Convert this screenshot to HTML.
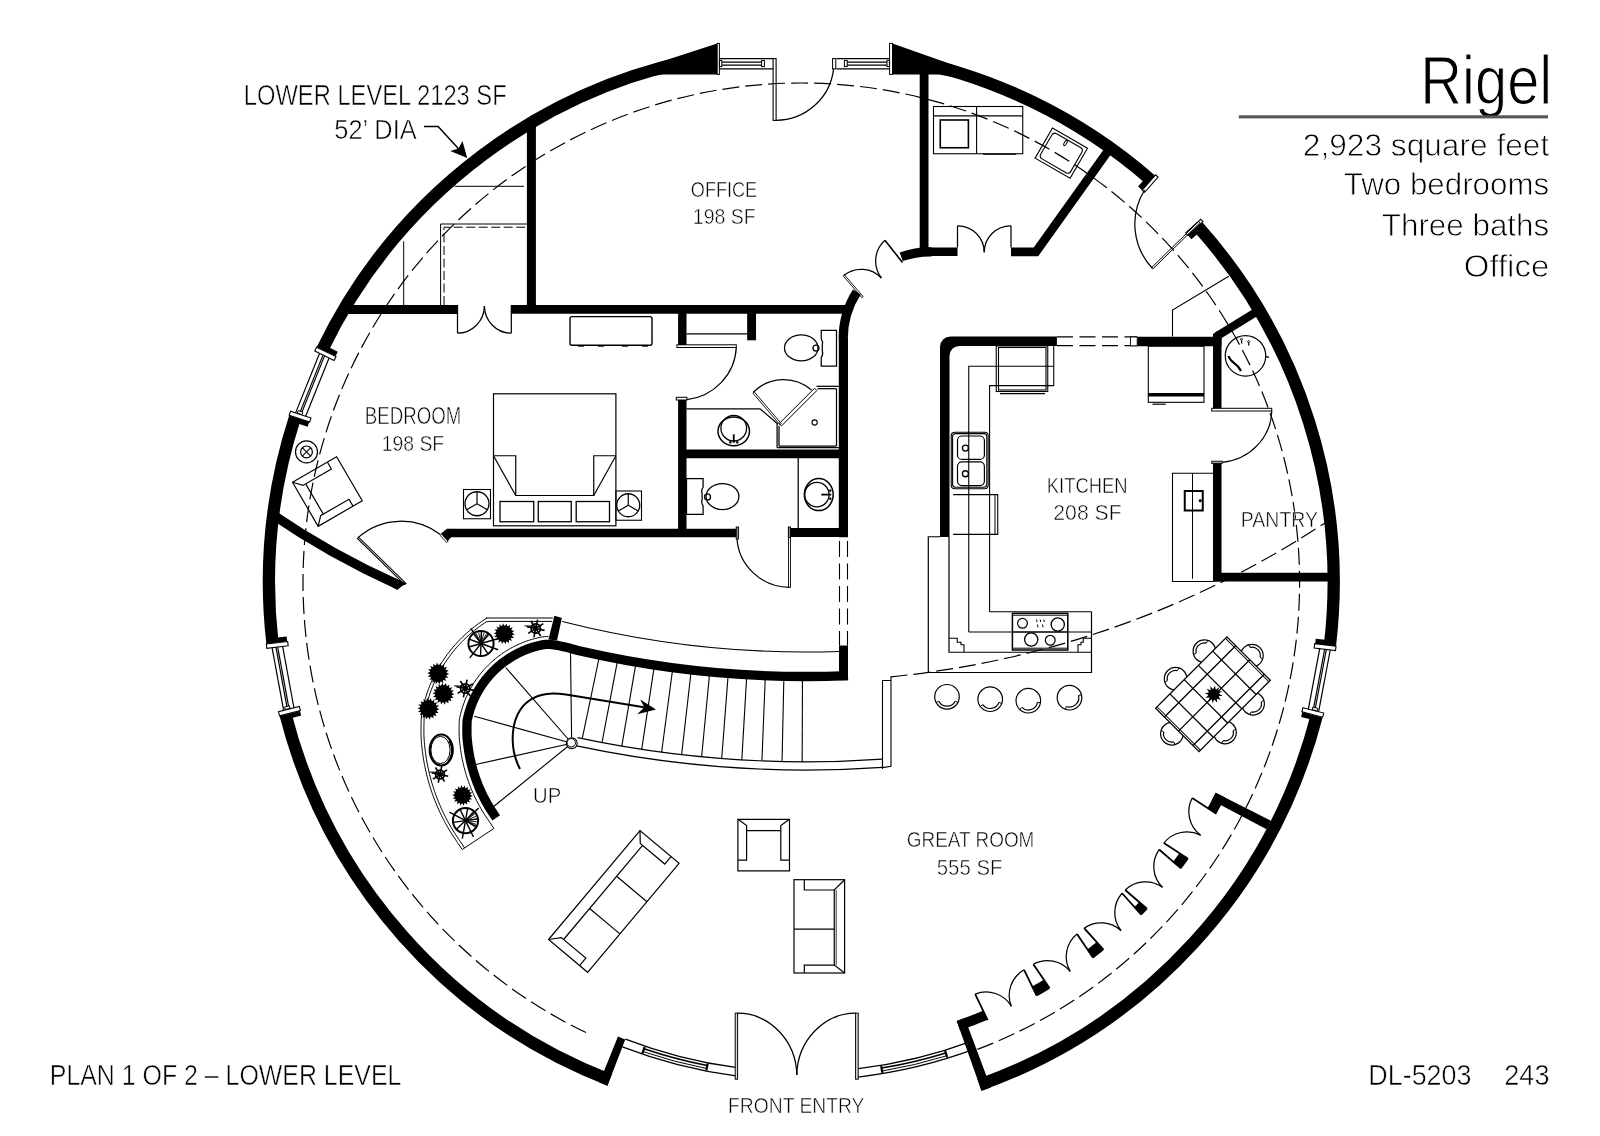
<!DOCTYPE html>
<html><head><meta charset="utf-8"><title>Rigel</title>
<style>
html,body{margin:0;padding:0;background:#fff;}
svg{display:block;filter:grayscale(1);}
text{font-family:"Liberation Sans",sans-serif;fill:#000;}
</style></head>
<body>
<svg width="1600" height="1136" viewBox="0 0 1600 1136">
<rect x="0" y="0" width="1600" height="1136" fill="#fff"/>
<g fill="none" stroke="#000" stroke-width="1.2" stroke-dasharray="17 6">
<path d="M585.99,1032.58 A498.3,499.3 0 1 1 976.62,1049.67"/>
<path d="M890.6,676.83 A961.9,961.9 0 0 0 1326.81,521.71"/>
</g>
<path d="M1316.69,715.86 A532.35,533.41 0 0 1 979.44,1084.96" fill="none" stroke="#000" stroke-width="12.3" />
<path d="M609.66,1079.95 A532.35,533.41 0 0 1 285.54,714.41" fill="none" stroke="#000" stroke-width="12.3" />
<path d="M272.44,643.24 A532.35,533.41 0 0 1 295.01,417.47" fill="none" stroke="#000" stroke-width="12.3" />
<path d="M322.22,349.72 A532.35,533.41 0 0 1 713.44,56.2" fill="none" stroke="#000" stroke-width="12.3" />
<path d="M896.49,57.48 A532.35,533.41 0 0 1 1150.97,180.09" fill="none" stroke="#000" stroke-width="12.3" />
<path d="M1197.78,226.35 A532.35,533.41 0 0 1 1329.91,645.46" fill="none" stroke="#000" stroke-width="12.3" />
<polygon points="717.2,43.4 717.2,74.4 663,74.4 637.5,78.2 634.9,70.2" fill="#000" stroke="none" stroke-width="0"/>
<polygon points="892.5,43.4 892.5,74.4 939,74.4 968,80 981,74.7" fill="#000" stroke="none" stroke-width="0"/>
<rect x="717.2" y="43.4" width="2.2" height="31" rx="0" fill="#fff" stroke="#000" stroke-width="1" />
<rect x="889.6" y="43.4" width="2.9" height="31" rx="0" fill="#fff" stroke="#000" stroke-width="1" />
<polygon points="1315.74,638.7 1325.18,639.78 1324.61,644.74 1315.17,643.66" fill="#000" stroke="none" stroke-width="0"/>
<polygon points="1314.67,643.66 1336,646.3 1335.48,650.57 1314.14,647.93" fill="#fff" stroke="#000" stroke-width="1.1"/>
<polygon points="1302.34,712.08 1311.52,714.5 1310.25,719.34 1301.06,716.91" fill="#000" stroke="none" stroke-width="0"/>
<polygon points="1302.92,707.73 1323.76,713.03 1322.7,717.2 1301.86,711.9" fill="#fff" stroke="#000" stroke-width="1.1"/>
<line x1="1319.69" y1="648.66" x2="1308.35" y2="709.07" stroke="#000" stroke-width="1.2" />
<line x1="1324.65" y1="649.29" x2="1313.21" y2="710.28" stroke="#000" stroke-width="1.2" />
<line x1="1326.33" y1="649.51" x2="1314.86" y2="710.7" stroke="#000" stroke-width="1.2" />
<line x1="1330.2" y1="650" x2="1318.64" y2="711.64" stroke="#000" stroke-width="1.2" />
<polygon points="1312.85,707.14 1317.7,708.34 1317.08,710.87 1312.23,709.67" fill="#fff" stroke="#000" stroke-width="1"/>
<polygon points="301.19,715.6 291.99,718 290.73,713.17 299.93,710.76" fill="#000" stroke="none" stroke-width="0"/>
<polygon points="300.4,710.59 279.55,715.83 278.5,711.66 299.35,706.42" fill="#fff" stroke="#000" stroke-width="1.1"/>
<polygon points="287.18,641.51 277.74,642.55 277.19,637.58 286.63,636.54" fill="#000" stroke="none" stroke-width="0"/>
<polygon points="288.19,645.77 266.84,648.32 266.33,644.05 287.68,641.5" fill="#fff" stroke="#000" stroke-width="1.1"/>
<line x1="293.92" y1="707.74" x2="282.64" y2="646.48" stroke="#000" stroke-width="1.2" />
<line x1="289.06" y1="708.94" x2="277.68" y2="647.09" stroke="#000" stroke-width="1.2" />
<line x1="287.41" y1="709.35" x2="275.99" y2="647.3" stroke="#000" stroke-width="1.2" />
<line x1="283.62" y1="710.28" x2="272.12" y2="647.78" stroke="#000" stroke-width="1.2" />
<polygon points="290.04,708.33 285.19,709.51 284.57,706.99 289.43,705.8" fill="#fff" stroke="#000" stroke-width="1"/>
<polygon points="307.62,426.77 298.57,423.87 300.09,419.11 309.14,422.01" fill="#000" stroke="none" stroke-width="0"/>
<polygon points="309.63,422.11 289.21,415.37 290.56,411.28 310.98,418.03" fill="#fff" stroke="#000" stroke-width="1.1"/>
<polygon points="335.55,356.26 327.02,352.07 329.22,347.58 337.75,351.77" fill="#000" stroke="none" stroke-width="0"/>
<polygon points="334.12,360.4 314.73,351.1 316.59,347.22 335.98,356.53" fill="#fff" stroke="#000" stroke-width="1.1"/>
<line x1="305.68" y1="416.23" x2="329.06" y2="358.02" stroke="#000" stroke-width="1.2" />
<line x1="300.94" y1="414.64" x2="324.54" y2="355.87" stroke="#000" stroke-width="1.2" />
<line x1="299.32" y1="414.1" x2="323.01" y2="355.15" stroke="#000" stroke-width="1.2" />
<line x1="295.62" y1="412.86" x2="319.48" y2="353.47" stroke="#000" stroke-width="1.2" />
<polygon points="302.09,414.65 297.35,413.05 298.18,410.59 302.92,412.19" fill="#fff" stroke="#000" stroke-width="1"/>
<line x1="719.4" y1="58.6" x2="773.1" y2="58.6" stroke="#000" stroke-width="1.25" />
<line x1="719.4" y1="68.9" x2="773.1" y2="68.9" stroke="#000" stroke-width="1.25" />
<line x1="836.5" y1="58.6" x2="889.6" y2="58.6" stroke="#000" stroke-width="1.25" />
<line x1="836.5" y1="68.9" x2="889.6" y2="68.9" stroke="#000" stroke-width="1.25" />
<line x1="722" y1="62.2" x2="762" y2="62.2" stroke="#000" stroke-width="1.25" />
<line x1="722" y1="65" x2="762" y2="65" stroke="#000" stroke-width="1.25" />
<rect x="719.4" y="60.4" width="2.4" height="6.2" rx="0" fill="none" stroke="#000" stroke-width="1" />
<rect x="761.6" y="60.4" width="2.8" height="6.2" rx="0" fill="none" stroke="#000" stroke-width="1" />
<line x1="847" y1="62.2" x2="887" y2="62.2" stroke="#000" stroke-width="1.25" />
<line x1="847" y1="65" x2="887" y2="65" stroke="#000" stroke-width="1.25" />
<rect x="844.4" y="60.4" width="2.8" height="6.2" rx="0" fill="none" stroke="#000" stroke-width="1" />
<rect x="887" y="60.4" width="2.4" height="6.2" rx="0" fill="none" stroke="#000" stroke-width="1" />
<rect x="832.6" y="58.6" width="3.2" height="10.3" rx="0" fill="none" stroke="#000" stroke-width="1" />
<rect x="773.1" y="58.6" width="3" height="61.8" rx="0" fill="none" stroke="#000" stroke-width="1.1" />
<path d="M776,120.3 A58,58 0 0 0 833.6,68.9" fill="none" stroke="#000" stroke-width="1.25" />
<polygon points="1138.07,186.6 1143.29,180.53 1147.46,184.12 1142.23,190.19" fill="#000" stroke="none" stroke-width="0"/>
<polygon points="1142.23,190.2 1155.61,174.9 1158.02,177.01 1144.64,192.31" fill="#fff" stroke="#000" stroke-width="1.1"/>
<polygon points="1187.82,235.25 1193.81,229.93 1197.46,234.04 1191.47,239.36" fill="#000" stroke="none" stroke-width="0"/>
<polygon points="1185.68,232.87 1200.75,219.25 1202.9,221.62 1187.82,235.25" fill="#fff" stroke="#000" stroke-width="1.1"/>
<path d="M1198.57,221.56 L1151.67,267.56 L1152.93,268.84 L1199.83,222.84 Z" fill="none" stroke="#000" stroke-width="1" />
<path d="M1152.3,268.2 A64.5,64.5 0 0 1 1144.6,190.0" fill="none" stroke="#000" stroke-width="1.25" />
<path d="M625.26,1039.43 L607.44,1085.7 A538.5,539.58 0 0 1 599.4,1082.52 L617.96,1036.54 A489,489.98 0 0 0 625.26,1039.43 Z" fill="#000"/>
<path d="M964.73,1017.97 L990.77,1087.38 A538.5,539.58 0 0 1 981.5,1090.77 L956.74,1020.9 A464.5,465.43 0 0 0 964.73,1017.97 Z" fill="#000"/>
<path d="M983.54,1010.41 L987.46,1019.63 A474.5,475.45 0 0 1 960.08,1030.34 L956.74,1020.9 A464.5,465.43 0 0 0 983.54,1010.41 Z" fill="#000"/>
<path d="M735.67,1067.44 A488.6,489.58 0 0 1 625.41,1039.05" fill="none" stroke="#000" stroke-width="1.25" />
<path d="M736,1075.98 A497,497.99 0 0 1 622.38,1046.91" fill="none" stroke="#000" stroke-width="1.25" />
<path d="M973.21,1040.57 A488.6,489.58 0 0 1 858.31,1068.53" fill="none" stroke="#000" stroke-width="1.25" />
<path d="M976.17,1048.45 A497,497.99 0 0 1 857.99,1077.04" fill="none" stroke="#000" stroke-width="1.25" />
<path d="M707.28,1065.59 A491.4,492.38 0 0 1 643.99,1048.77" fill="none" stroke="#000" stroke-width="1.5"/>
<path d="M706.71,1068.54 A494.4,495.39 0 0 1 643.03,1051.62" fill="none" stroke="#000" stroke-width="1"/>
<polygon points="708.77,1063.73 707.43,1070.62 705.27,1070.2 706.61,1063.31" fill="#000" stroke="none" stroke-width="0"/>
<polygon points="645.71,1047.13 643.47,1053.78 641.38,1053.07 643.62,1046.43" fill="#000" stroke="none" stroke-width="0"/>
<path d="M945.79,1052.92 A491.4,492.38 0 0 1 881.56,1068.07" fill="none" stroke="#000" stroke-width="1.5"/>
<path d="M946.67,1055.79 A494.4,495.39 0 0 1 882.05,1071.04" fill="none" stroke="#000" stroke-width="1"/>
<polygon points="946.23,1050.58 948.28,1057.29 946.18,1057.93 944.12,1051.23" fill="#000" stroke="none" stroke-width="0"/>
<polygon points="882.3,1065.82 883.44,1072.74 881.27,1073.09 880.13,1066.17" fill="#000" stroke="none" stroke-width="0"/>
<rect x="735.2" y="1013.2" width="2.4" height="66" rx="0" fill="#ddd" stroke="#000" stroke-width="1" />
<rect x="855.6" y="1013.2" width="2.6" height="66" rx="0" fill="#ddd" stroke="#000" stroke-width="1" />
<path d="M737.4,1013.2 A59.5,63 0 0 1 796.8,1075" fill="none" stroke="#000" stroke-width="1.25" />
<path d="M855.8,1013.2 A59.2,63 0 0 0 796.8,1075" fill="none" stroke="#000" stroke-width="1.25" />
<path d="M1215.65,792.66 L1270.96,820.74 A526.5,527.55 0 0 1 1266.52,829.32 L1211.73,800.23 A464.5,465.43 0 0 0 1215.65,792.66 Z" fill="#000"/>
<path d="M1215.65,792.66 L1225.02,797.41 A475,475.95 0 0 1 1216.54,813.41 L1207.36,808.3 A464.5,465.43 0 0 0 1215.65,792.66 Z" fill="#000"/>
<line x1="1216.34" y1="813.77" x2="1192.21" y2="798.08" stroke="#000" stroke-width="1.8" />
<line x1="1188" y1="858.69" x2="1163.87" y2="843.07" stroke="#000" stroke-width="1.8" />
<path d="M1192.21,798.08 A29.3,29.3 0 0 0 1200.6,835.23" fill="none" stroke="#000" stroke-width="1.25" />
<path d="M1163.87,843.07 A29.3,29.3 0 0 1 1200.6,835.23" fill="none" stroke="#000" stroke-width="1.25" />
<path d="M1179.7,852.75 L1188.49,859.03 A475.6,476.55 0 0 1 1181.38,868.76 L1172.75,862.26 A464.8,465.73 0 0 0 1179.7,852.75 Z" fill="#000"/>
<line x1="1180.9" y1="868.4" x2="1159.13" y2="849.55" stroke="#000" stroke-width="1.8" />
<line x1="1146.99" y1="908.72" x2="1125.2" y2="889.96" stroke="#000" stroke-width="1.8" />
<path d="M1159.13,849.55 A29.3,29.3 0 0 0 1162.52,887.35" fill="none" stroke="#000" stroke-width="1.25" />
<path d="M1125.2,889.96 A29.3,29.3 0 0 1 1162.52,887.35" fill="none" stroke="#000" stroke-width="1.25" />
<path d="M1139.57,901.71 L1147.43,909.13 A475.6,476.55 0 0 1 1141.68,915.13 L1133.95,907.57 A464.8,465.73 0 0 0 1139.57,901.71 Z" fill="#000"/>
<line x1="1141.25" y1="914.71" x2="1122.07" y2="893.23" stroke="#000" stroke-width="1.8" />
<line x1="1103.44" y1="949.55" x2="1084.16" y2="928.21" stroke="#000" stroke-width="1.8" />
<path d="M1122.07,893.23 A29.3,29.3 0 0 0 1121.06,930.73" fill="none" stroke="#000" stroke-width="1.25" />
<path d="M1084.16,928.21 A29.3,29.3 0 0 1 1121.06,930.73" fill="none" stroke="#000" stroke-width="1.25" />
<path d="M1096.95,941.67 L1103.82,950.02 A475.6,476.55 0 0 1 1093.45,958.34 L1086.82,949.8 A464.8,465.73 0 0 0 1096.95,941.67 Z" fill="#000"/>
<line x1="1093.09" y1="957.86" x2="1076.99" y2="933.97" stroke="#000" stroke-width="1.8" />
<line x1="1049.49" y1="988.11" x2="1033.36" y2="964.29" stroke="#000" stroke-width="1.8" />
<path d="M1076.99,933.97 A29.3,29.3 0 0 0 1070.23,971.46" fill="none" stroke="#000" stroke-width="1.25" />
<path d="M1033.36,964.29 A29.3,29.3 0 0 1 1070.23,971.46" fill="none" stroke="#000" stroke-width="1.25" />
<path d="M1044.16,979.4 L1049.8,988.63 A475.6,476.55 0 0 1 1036.94,996.25 L1031.59,986.85 A464.8,465.73 0 0 0 1044.16,979.4 Z" fill="#000"/>
<line x1="1036.64" y1="995.73" x2="1024.11" y2="969.78" stroke="#000" stroke-width="1.8" />
<line x1="987.66" y1="1020.09" x2="975.18" y2="994.16" stroke="#000" stroke-width="1.8" />
<path d="M1024.11,969.78 A29.3,29.3 0 0 0 1011.35,1006.28" fill="none" stroke="#000" stroke-width="1.25" />
<path d="M975.18,994.16 A29.3,29.3 0 0 1 1011.35,1006.28" fill="none" stroke="#000" stroke-width="1.25" />
<line x1="531.4" y1="126" x2="531.4" y2="309.5" stroke="#000" stroke-width="9" />
<line x1="346" y1="309.5" x2="457.5" y2="309.5" stroke="#000" stroke-width="9" />
<line x1="511" y1="309.4" x2="848" y2="309.4" stroke="#000" stroke-width="8.8" />
<line x1="924.1" y1="70" x2="924.1" y2="256.1" stroke="#000" stroke-width="8.8" />
<line x1="919.7" y1="251.8" x2="957.5" y2="251.8" stroke="#000" stroke-width="8.6" />
<path d="M1011,251.8 L1036,251.8 L1110.5,147.5" fill="none" stroke="#000" stroke-width="8.8" stroke-linejoin="miter" stroke-miterlimit="6"/>
<path d="M843.2,338.6 A86.8,86.8 0 0 1 856.79,291.96" fill="none" stroke="#000" stroke-width="9.2" />
<path d="M901.17,256.73 A86.8,86.8 0 0 1 931.51,251.81" fill="none" stroke="#000" stroke-width="9.2" />
<line x1="843.4" y1="338" x2="843.4" y2="537.2" stroke="#000" stroke-width="9.2" />
<line x1="682.3" y1="305" x2="682.3" y2="345" stroke="#000" stroke-width="8.4" />
<line x1="682.3" y1="399.6" x2="682.3" y2="537" stroke="#000" stroke-width="8.4" />
<line x1="751.6" y1="305" x2="751.6" y2="340.3" stroke="#000" stroke-width="8.9" />
<line x1="682" y1="453.75" x2="843" y2="453.75" stroke="#000" stroke-width="8.75" />
<line x1="450" y1="533" x2="737.6" y2="533" stroke="#000" stroke-width="8.4" />
<polygon points="450.5,528.8 447,528.8 441,533.6 447.5,541.2 451,537.2" fill="#000" stroke="none" stroke-width="0"/>
<line x1="789.4" y1="532.6" x2="848" y2="532.6" stroke="#000" stroke-width="9" />
<path d="M269.64,512.68 A812.6,812.6 0 0 0 399.39,585.35" fill="none" stroke="#000" stroke-width="9.4" />
<polygon points="396.11,578.83 405.9,583.3 397.47,589.64 392.27,587.3" fill="#000" stroke="none" stroke-width="0"/>
<path d="M1056.9,336.5 L950.5,336.5 A10.5,10.5 0 0 0 940,347 L940,536.9 L949.5,536.9 L949.5,356 A10,10 0 0 1 959.5,345.9 L1056.9,345.9 Z" fill="#000"/>
<line x1="1137.2" y1="341.5" x2="1218" y2="341.5" stroke="#000" stroke-width="9.4" />
<line x1="1217.25" y1="334" x2="1217.25" y2="408.3" stroke="#000" stroke-width="8.5" />
<line x1="1217.25" y1="462.75" x2="1217.25" y2="581.5" stroke="#000" stroke-width="8.5" />
<path d="M1217.2,336 L1261,309" fill="none" stroke="#000" stroke-width="8.2" />
<polygon points="1213,334 1213,346 1221.5,346 1221.5,336.6 1217,331" fill="#000" stroke="none" stroke-width="0"/>
<line x1="1213" y1="577.1" x2="1330" y2="577.1" stroke="#000" stroke-width="8.75" />
<line x1="843.5" y1="645.5" x2="843.5" y2="680.2" stroke="#000" stroke-width="9" />
<path d="M496.23,817.9 L495.62,816.98 L494.8,815.76 L493.82,814.31 L492.74,812.7 L491.61,810.99 L490.48,809.26 L489.41,807.57 L488.45,806 L487.57,804.5 L486.72,803.01 L485.89,801.51 L485.08,800.01 L484.29,798.5 L483.53,797 L482.78,795.5 L482.05,794 L481.34,792.5 L480.65,791 L479.98,789.5 L479.33,788 L478.7,786.5 L478.09,785 L477.49,783.5 L476.91,782 L476.35,780.5 L475.81,779 L475.28,777.5 L474.78,776 L474.29,774.5 L473.81,773 L473.36,771.5 L472.91,770 L472.49,768.49 L472.07,766.98 L471.68,765.46 L471.3,763.94 L470.94,762.43 L470.59,760.93 L470.27,759.45 L469.96,758 L469.67,756.58 L469.4,755.18 L469.15,753.8 L468.92,752.44 L468.7,751.08 L468.5,749.73 L468.3,748.37 L468.12,747 L467.93,745.63 L467.76,744.27 L467.6,742.92 L467.44,741.56 L467.3,740.2 L467.18,738.82 L467.08,737.42 L467,736 L466.94,734.5 L466.91,732.91 L466.9,731.27 L466.9,729.64 L466.91,728.05 L466.94,726.55 L466.97,725.18 L467,724 L467.02,723.07 L467.03,722.36 L467.03,721.82 L467.05,721.36 L467.09,720.9 L467.17,720.37 L467.3,719.7 L467.49,718.8 L467.75,717.68 L468.06,716.4 L468.41,715 L468.8,713.52 L469.23,712 L469.68,710.47 L470.14,708.97 L470.61,707.54 L471.1,706.17 L471.61,704.8 L472.14,703.43 L472.69,702.08 L473.26,700.73 L473.85,699.39 L474.46,698.06 L475.09,696.75 L475.74,695.44 L476.41,694.14 L477.1,692.85 L477.81,691.58 L478.54,690.31 L479.29,689.05 L480.05,687.81 L480.84,686.58 L481.64,685.36 L482.47,684.15 L483.31,682.96 L484.17,681.78 L485.05,680.61 L485.95,679.45 L486.86,678.31 L487.79,677.19 L488.74,676.07 L489.7,674.98 L490.68,673.89 L491.68,672.82 L492.7,671.77 L493.73,670.73 L494.77,669.71 L495.83,668.71 L496.91,667.72 L498,666.75 L499.11,665.8 L500.23,664.86 L501.36,663.93 L502.51,663.03 L503.68,662.14 L504.85,661.28 L506.04,660.43 L507.24,659.6 L508.45,658.78 L509.68,657.99 L510.92,657.21 L512.17,656.45 L513.43,655.72 L514.7,655 L515.99,654.3 L517.28,653.62 L518.58,652.96 L519.9,652.32 L521.23,651.7 L522.56,651.1 L523.9,650.53 L525.25,649.97 L526.6,649.43 L527.96,648.91 L529.32,648.4 L530.69,647.92 L532.07,647.47 L533.47,647.03 L534.89,646.63 L536.33,646.26 L537.78,645.9 L539.24,645.55 L540.71,645.21 L542.2,644.9 L543.72,644.65 L545.27,644.45 L546.86,644.33 L548.5,644.3 L550.2,644.37 L551.95,644.54 L553.74,644.78 L555.57,645.09 L557.42,645.44 L559.29,645.81 L561.15,646.21 L563,646.6 L564.95,647.03 L567.07,647.55 L569.25,648.11 L571.41,648.68 L573.45,649.23 L575.29,649.74 L576.84,650.16 L578,650.47 A1011.5,1011.5 0 0 0 848,675.63" fill="none" stroke="#000" stroke-width="9.3" stroke-linejoin="round"/>
<polygon points="554.4,615.75 561.9,618 557,640.5 548.4,639.4" fill="#000" stroke="none" stroke-width="0"/>
<g stroke="#000" stroke-width="1.1" stroke-dasharray="16 6.5" fill="none">
<path d="M1057,336.9 H1137 M1057,345.6 H1137"/>
<path d="M839.5,541 V645.5 M847.5,541 V645.5"/>
</g>
<rect x="1130.5" y="337" width="6.7" height="8.8" rx="0" fill="#fff" stroke="#000" stroke-width="0.9" />
<line x1="454.7" y1="186.3" x2="524" y2="186.3" stroke="#000" stroke-width="1" stroke="#333"/>
<path d="M440.6,305 L440.6,224 L526.9,224" fill="none" stroke="#000" stroke-width="1" />
<path d="M444,305 L444,227.2 L526.9,227.2" fill="none" stroke="#000" stroke-width="1" stroke-dasharray="9 3.5"/>
<line x1="403.7" y1="241.25" x2="403.7" y2="305" stroke="#000" stroke-width="1" />
<line x1="457.5" y1="305" x2="457.5" y2="333.2" stroke="#000" stroke-width="1.25" />
<line x1="511.3" y1="305" x2="511.3" y2="333.2" stroke="#000" stroke-width="1.25" />
<path d="M457.5,333.2 A27,27.5 0 0 0 484.4,306" fill="none" stroke="#000" stroke-width="1.25" />
<path d="M511.3,333.2 A27,27.5 0 0 1 484.4,306" fill="none" stroke="#000" stroke-width="1.25" />
<line x1="957.5" y1="247.5" x2="957.5" y2="225.8" stroke="#000" stroke-width="1.25" />
<line x1="1011" y1="247.5" x2="1011" y2="225.8" stroke="#000" stroke-width="1.25" />
<path d="M957.5,225.8 A26.5,26.5 0 0 1 984.2,252.3" fill="none" stroke="#000" stroke-width="1.25" />
<path d="M1011,225.8 A26.5,26.5 0 0 0 984.2,252.3" fill="none" stroke="#000" stroke-width="1.25" />
<line x1="902.5" y1="262.5" x2="884.9" y2="240.2" stroke="#000" stroke-width="1.6" />
<path d="M884.9,240.2 A28,28 0 0 0 881.4,278.0" fill="none" stroke="#000" stroke-width="1.25" />
<path d="M863.2,296.6 L844.4,274.8 L843.2,275.9 L861.9,297.7 Z" fill="none" stroke="#000" stroke-width="0.9" />
<path d="M844,275.2 A28,28 0 0 1 881.4,278.0" fill="none" stroke="#000" stroke-width="1.25" />
<rect x="676.9" y="344.8" width="59.4" height="2.7" rx="0" fill="none" stroke="#000" stroke-width="1" />
<path d="M736.3,347.5 A56.5,55 0 0 1 686.9,399.6" fill="none" stroke="#000" stroke-width="1.25" />
<rect x="676.3" y="397.3" width="10.6" height="2.7" rx="0" fill="#fff" stroke="#000" stroke-width="1" />
<line x1="686.5" y1="333.75" x2="747.1" y2="333.75" stroke="#000" stroke-width="1.25" />
<path d="M686.5,408.75 L760,408.75 L778.1,424.2" fill="none" stroke="#000" stroke-width="1.25" />
<line x1="777.1" y1="424" x2="777.1" y2="447.7" stroke="#000" stroke-width="1.25" />
<line x1="779" y1="426" x2="779" y2="446" stroke="#000" stroke-width="1.25" />
<line x1="777.1" y1="447.7" x2="838.8" y2="447.7" stroke="#000" stroke-width="1.25" />
<line x1="779" y1="446" x2="836.5" y2="446" stroke="#000" stroke-width="1.25" />
<line x1="836.5" y1="388.7" x2="836.5" y2="446" stroke="#000" stroke-width="1.25" />
<line x1="816.5" y1="386.3" x2="838.8" y2="386.3" stroke="#000" stroke-width="1.25" />
<line x1="817.5" y1="388.7" x2="836.5" y2="388.7" stroke="#000" stroke-width="1.25" />
<path d="M779.2,423.6 L814.6,388.2 L816.9,390.5 L781.5,425.9 Z" fill="none" stroke="#000" stroke-width="1" />
<path d="M779.9,424.8 L752.8,393 L754.2,391.8 L781.3,423.6 Z" fill="none" stroke="#000" stroke-width="0.9" />
<path d="M753.3,392.3 A42.5,42.5 0 0 1 811.5,390.0" fill="none" stroke="#000" stroke-width="1.25" />
<circle cx="814.6" cy="422.5" r="2.6" fill="none" stroke="#000" stroke-width="1.1"/>
<ellipse cx="733.75" cy="431.3" rx="15.75" ry="14.4" fill="none" stroke="#000" stroke-width="1.5" />
<circle cx="733.75" cy="428.2" r="12.8" fill="none" stroke="#000" stroke-width="1.3"/>
<line x1="733.75" y1="434.3" x2="733.75" y2="442.8" stroke="#000" stroke-width="1.8" />
<circle cx="730.3" cy="442.3" r="0.9" fill="#000" stroke="#000" stroke-width="0.9"/>
<circle cx="737.3" cy="442.3" r="0.9" fill="#000" stroke="#000" stroke-width="0.9"/>
<path d="M821.25,330.25 H836.5 V366 H821.25 V357.5 Q823.4,354.5 822.3,351 V345.2 Q823.4,341.8 821.25,338.8 Z" fill="none" stroke="#000" stroke-width="1.25" />
<ellipse cx="801.25" cy="347.9" rx="16.75" ry="13" fill="none" stroke="#000" stroke-width="1.25" />
<circle cx="816" cy="348.1" r="3" fill="none" stroke="#000" stroke-width="1.3"/>
<path d="M703.1,478.5 H686.5 V514.4 H703.1 V505.9 Q701,502.9 702.1,499.4 V493.6 Q701,490.2 703.1,487.2 Z" fill="none" stroke="#000" stroke-width="1.25" />
<ellipse cx="722.5" cy="496.6" rx="16.4" ry="13.1" fill="none" stroke="#000" stroke-width="1.25" />
<circle cx="707.5" cy="496.9" r="3" fill="none" stroke="#000" stroke-width="1.3"/>
<line x1="798.2" y1="458" x2="798.2" y2="528.5" stroke="#000" stroke-width="1.25" />
<ellipse cx="818.75" cy="494.6" rx="14.4" ry="16" fill="none" stroke="#000" stroke-width="1.5" />
<circle cx="816.9" cy="494.6" r="12.2" fill="none" stroke="#000" stroke-width="1.3"/>
<line x1="821.3" y1="494.6" x2="831.3" y2="494.6" stroke="#000" stroke-width="1.8" />
<circle cx="830.3" cy="490.6" r="0.9" fill="#000" stroke="#000" stroke-width="0.9"/>
<circle cx="830.3" cy="498.7" r="0.9" fill="#000" stroke="#000" stroke-width="0.9"/>
<rect x="788.5" y="528" width="2" height="59.3" rx="0" fill="none" stroke="#000" stroke-width="0.9" />
<path d="M789.5,587.3 A53,52 0 0 1 737,538.8" fill="none" stroke="#000" stroke-width="1.25" />
<rect x="736.2" y="527" width="2.4" height="12" rx="0" fill="#888" stroke="#000" stroke-width="0.9" />
<rect x="788.3" y="527" width="2.2" height="10.4" rx="0" fill="#888" stroke="#000" stroke-width="0.9" />
<path d="M405.9,583.4 L358.6,537.2 L357.4,538.4 L404.7,584.6 Z" fill="none" stroke="#000" stroke-width="1.1" />
<path d="M358.1,537.6 A64.5,64.5 0 0 1 440.3,534.6" fill="none" stroke="#000" stroke-width="1.25" />
<path d="M440.2,535.4 L441.6,534.2 L448.2,541.2 L446.6,542.4 Z" fill="#fff" stroke="#000" stroke-width="0.9" />
<rect x="1211.75" y="408.3" width="60" height="2.7" rx="0" fill="none" stroke="#000" stroke-width="1" />
<path d="M1271.75,411 A55,53 0 0 1 1222.3,462.3" fill="none" stroke="#000" stroke-width="1.25" />
<rect x="1211.75" y="461.2" width="10.5" height="2.2" rx="0" fill="#aaa" stroke="#000" stroke-width="0.9" />
<path d="M1228.75,276.25 L1172.5,310 L1172.5,336.5" fill="none" stroke="#000" stroke-width="1.1" />
<rect x="933.5" y="106.5" width="89.25" height="47.25" rx="0" fill="none" stroke="#000" stroke-width="1.1" />
<line x1="976.6" y1="106.5" x2="976.6" y2="153.75" stroke="#000" stroke-width="1.1" />
<line x1="933.5" y1="115.9" x2="1022.75" y2="115.9" stroke="#000" stroke-width="1.1" />
<rect x="940.25" y="120" width="28.15" height="27.75" rx="0" fill="none" stroke="#000" stroke-width="1.6" />
<line x1="983" y1="154.3" x2="1016" y2="154.3" stroke="#000" stroke-width="1" />
<g transform="translate(1061.3,153.2) rotate(30)">
<rect x="-20.2" y="-17.4" width="40.4" height="34.8" rx="0" fill="none" stroke="#000" stroke-width="1.1" />
<rect x="-17.3" y="-14.5" width="34.6" height="29" rx="3.5" fill="none" stroke="#000" stroke-width="1.1" />
<ellipse cx="-1.5" cy="-11" rx="1.2" ry="3" fill="none" stroke="#000" stroke-width="1" />
</g>
<rect x="570" y="316.6" width="82" height="28.6" rx="2" fill="none" stroke="#000" stroke-width="1.4" />
<line x1="578" y1="346.2" x2="584" y2="346.2" stroke="#000" stroke-width="1" />
<line x1="598" y1="346.2" x2="604" y2="346.2" stroke="#000" stroke-width="1" />
<line x1="622" y1="346.2" x2="628" y2="346.2" stroke="#000" stroke-width="1" />
<line x1="642" y1="346.2" x2="648" y2="346.2" stroke="#000" stroke-width="1" />
<rect x="493.5" y="393.8" width="122.4" height="132" rx="0" fill="none" stroke="#000" stroke-width="1.2" />
<path d="M493.5,455.75 L515.75,455.75 L515.75,495.5 L593.75,495.5 L593.75,455.75 L615.9,455.75" fill="none" stroke="#000" stroke-width="1.2" />
<line x1="493.5" y1="455.75" x2="515.75" y2="495.5" stroke="#000" stroke-width="1.2" />
<line x1="615.9" y1="455.75" x2="593.75" y2="495.5" stroke="#000" stroke-width="1.2" />
<rect x="500" y="501.5" width="33.75" height="20.25" rx="0" fill="none" stroke="#000" stroke-width="1.3" />
<rect x="538.25" y="501.5" width="33" height="20.25" rx="0" fill="none" stroke="#000" stroke-width="1.3" />
<rect x="576.2" y="501.5" width="33.3" height="20.25" rx="0" fill="none" stroke="#000" stroke-width="1.3" />
<rect x="463.5" y="489.5" width="27" height="29.25" rx="0" fill="none" stroke="#000" stroke-width="1.1" />
<circle cx="477" cy="503.75" r="12" fill="none" stroke="#000" stroke-width="1.3"/>
<line x1="477" y1="503.75" x2="477" y2="491.75" stroke="#000" stroke-width="1.2" />
<line x1="477" y1="503.75" x2="487.39" y2="509.75" stroke="#000" stroke-width="1.2" />
<line x1="477" y1="503.75" x2="466.61" y2="509.75" stroke="#000" stroke-width="1.2" />
<rect x="615.9" y="491" width="25.6" height="29.25" rx="0" fill="none" stroke="#000" stroke-width="1.1" />
<circle cx="628.25" cy="505.25" r="11.5" fill="none" stroke="#000" stroke-width="1.3"/>
<line x1="628.25" y1="505.25" x2="628.25" y2="493.75" stroke="#000" stroke-width="1.2" />
<line x1="628.25" y1="505.25" x2="638.21" y2="511" stroke="#000" stroke-width="1.2" />
<line x1="628.25" y1="505.25" x2="618.29" y2="511" stroke="#000" stroke-width="1.2" />
<circle cx="306.5" cy="451.9" r="11" fill="none" stroke="#000" stroke-width="1.2"/>
<circle cx="306.5" cy="451.9" r="5.9" fill="none" stroke="#000" stroke-width="1.2"/>
<line x1="302.3" y1="447.7" x2="310.7" y2="456.1" stroke="#000" stroke-width="1.1" />
<line x1="302.3" y1="456.1" x2="310.7" y2="447.7" stroke="#000" stroke-width="1.1" />
<path d="M292.5,482.25 L336.62,456.7 L362.27,500.76 L318.15,526.31 Z" fill="none" stroke="#000" stroke-width="1.2" />
<path d="M292.5,482.25 L303.01,485.4 L331.38,468.97 L327.36,462.06" fill="none" stroke="#000" stroke-width="1.2" />
<path d="M318.15,526.31 L320.62,515.64 L348.99,499.21 L353.01,506.12" fill="none" stroke="#000" stroke-width="1.2" />
<line x1="305.69" y1="483.85" x2="323.3" y2="514.09" stroke="#000" stroke-width="1.2" />
<path d="M737.9,819.3 L737.9,870.9 L789.5,870.9 L789.5,819.3 Z" fill="none" stroke="#000" stroke-width="1.2" />
<path d="M737.9,819.3 L746.6,825.5 L746.6,860.1 L737.9,860.1" fill="none" stroke="#000" stroke-width="1.2" />
<path d="M789.5,819.3 L780.8,825.5 L780.8,860.1 L789.5,860.1" fill="none" stroke="#000" stroke-width="1.2" />
<line x1="746.6" y1="830.6" x2="780.8" y2="830.6" stroke="#000" stroke-width="1.2" />
<rect x="794" y="879.7" width="50.6" height="93.3" rx="0" fill="none" stroke="#000" stroke-width="1.2" />
<path d="M844.6,879.7 L834.25,890 L804.3,890 L804.3,879.7" fill="none" stroke="#000" stroke-width="1.2" />
<path d="M844.6,973 L834.25,965.1 L804.3,965.1 L804.3,973" fill="none" stroke="#000" stroke-width="1.2" />
<line x1="834.25" y1="890" x2="834.25" y2="965.1" stroke="#000" stroke-width="1.2" />
<line x1="836.2" y1="890" x2="836.2" y2="965.1" stroke="#000" stroke-width="0.8" />
<line x1="794" y1="929.2" x2="834.25" y2="929.2" stroke="#000" stroke-width="1.2" />
<path d="M640,830.6 L548.57,939.53 L587.63,972.32 L679.07,863.39 Z" fill="none" stroke="#000" stroke-width="1.2" />
<line x1="642.57" y1="845.42" x2="563.61" y2="939.49" stroke="#000" stroke-width="1.2" />
<path d="M640,830.6 L640.27,843.5 L664.79,864.07 L671.02,856.64" fill="none" stroke="#000" stroke-width="1.2" />
<path d="M548.57,939.53 L561.31,937.56 L585.83,958.14 L579.59,965.57" fill="none" stroke="#000" stroke-width="1.2" />
<line x1="616.66" y1="876.29" x2="646.92" y2="901.69" stroke="#000" stroke-width="1.2" />
<line x1="589.65" y1="908.47" x2="619.91" y2="933.87" stroke="#000" stroke-width="1.2" />
<circle cx="1204.4" cy="651.25" r="11.3" fill="#fff" stroke="#000" stroke-width="1.2"/>
<path d="M1196.22,653.14 A8.4,8.4 0 0 1 1206.29,643.07" fill="none" stroke="#000" stroke-width="1.2"/>
<line x1="1196.22" y1="653.14" x2="1193.59" y2="654.55" stroke="#000" stroke-width="1" />
<line x1="1206.29" y1="643.07" x2="1207.7" y2="640.44" stroke="#000" stroke-width="1" />
<circle cx="1175.6" cy="678.75" r="11.3" fill="#fff" stroke="#000" stroke-width="1.2"/>
<path d="M1167.42,680.64 A8.4,8.4 0 0 1 1177.49,670.57" fill="none" stroke="#000" stroke-width="1.2"/>
<line x1="1167.42" y1="680.64" x2="1164.79" y2="682.05" stroke="#000" stroke-width="1" />
<line x1="1177.49" y1="670.57" x2="1178.9" y2="667.94" stroke="#000" stroke-width="1" />
<circle cx="1251.9" cy="655.6" r="11.3" fill="#fff" stroke="#000" stroke-width="1.2"/>
<path d="M1250.01,647.42 A8.4,8.4 0 0 1 1260.08,657.49" fill="none" stroke="#000" stroke-width="1.2"/>
<line x1="1250.01" y1="647.42" x2="1248.6" y2="644.79" stroke="#000" stroke-width="1" />
<line x1="1260.08" y1="657.49" x2="1262.71" y2="658.9" stroke="#000" stroke-width="1" />
<circle cx="1253.1" cy="703.75" r="11.3" fill="#fff" stroke="#000" stroke-width="1.2"/>
<path d="M1261.28,701.86 A8.4,8.4 0 0 1 1251.21,711.93" fill="none" stroke="#000" stroke-width="1.2"/>
<line x1="1261.28" y1="701.86" x2="1263.91" y2="700.45" stroke="#000" stroke-width="1" />
<line x1="1251.21" y1="711.93" x2="1249.8" y2="714.56" stroke="#000" stroke-width="1" />
<circle cx="1225" cy="732.5" r="11.3" fill="#fff" stroke="#000" stroke-width="1.2"/>
<path d="M1233.18,730.61 A8.4,8.4 0 0 1 1223.11,740.68" fill="none" stroke="#000" stroke-width="1.2"/>
<line x1="1233.18" y1="730.61" x2="1235.81" y2="729.2" stroke="#000" stroke-width="1" />
<line x1="1223.11" y1="740.68" x2="1221.7" y2="743.31" stroke="#000" stroke-width="1" />
<circle cx="1171.9" cy="733.75" r="11.3" fill="#fff" stroke="#000" stroke-width="1.2"/>
<path d="M1173.79,741.93 A8.4,8.4 0 0 1 1163.72,731.86" fill="none" stroke="#000" stroke-width="1.2"/>
<line x1="1173.79" y1="741.93" x2="1175.2" y2="744.56" stroke="#000" stroke-width="1" />
<line x1="1163.72" y1="731.86" x2="1161.09" y2="730.45" stroke="#000" stroke-width="1" />
<g transform="translate(1226.9,636.9) rotate(45)">
<rect x="0" y="0" width="61.4" height="100.8" rx="0" fill="#fff" stroke="#000" stroke-width="1.3" />
<line x1="0" y1="2" x2="61.4" y2="2" stroke="#000" stroke-width="1" />
<line x1="0" y1="98.8" x2="61.4" y2="98.8" stroke="#000" stroke-width="1" />
<line x1="0" y1="20.1" x2="61.4" y2="20.1" stroke="#000" stroke-width="1.3" />
<line x1="0" y1="40.3" x2="61.4" y2="40.3" stroke="#000" stroke-width="1.3" />
<line x1="0" y1="60.4" x2="61.4" y2="60.4" stroke="#000" stroke-width="1.3" />
<line x1="0" y1="80.6" x2="61.4" y2="80.6" stroke="#000" stroke-width="1.3" />
<line x1="12.4" y1="0" x2="12.4" y2="100.8" stroke="#000" stroke-width="1.3" />
<line x1="32.4" y1="0" x2="32.4" y2="100.8" stroke="#000" stroke-width="1.3" />
<line x1="52.8" y1="0" x2="52.8" y2="100.8" stroke="#000" stroke-width="1.3" />
</g>
<polygon points="1222.66,695.65 1218.35,696.35 1220.84,699.94 1216.76,698.39 1217.12,702.74 1214.36,699.36 1212.5,703.31 1211.8,699 1208.21,701.49 1209.76,697.41 1205.41,697.77 1208.79,695.01 1204.84,693.15 1209.15,692.45 1206.66,688.86 1210.74,690.41 1210.38,686.06 1213.14,689.44 1215,685.49 1215.7,689.8 1219.29,687.31 1217.74,691.39 1222.09,691.03 1218.71,693.79" fill="#000" stroke="none" stroke-width="0"/>
<circle cx="1213.75" cy="694.4" r="5.2" fill="#000" stroke="#000" stroke-width="0.5"/>
<path d="M968.75,632 L968.75,366.25 L1053.75,366.25" fill="none" stroke="#000" stroke-width="1.1" />
<path d="M989.6,611.75 L989.6,385.6 L1053.75,385.6 L1053.75,345.9" fill="none" stroke="#000" stroke-width="1.1" />
<line x1="968.75" y1="632" x2="1091.5" y2="632" stroke="#000" stroke-width="1.1" />
<line x1="989.6" y1="611.75" x2="1091.5" y2="611.75" stroke="#000" stroke-width="1.1" />
<rect x="996.25" y="345.9" width="51.5" height="45.6" rx="0" fill="none" stroke="#000" stroke-width="1.1" />
<rect x="998.5" y="347.5" width="47.5" height="42.5" rx="0" fill="none" stroke="#000" stroke-width="1.1" />
<line x1="1000" y1="393.6" x2="1045" y2="393.6" stroke="#000" stroke-width="1.1" />
<rect x="951.25" y="432.2" width="36.9" height="56.5" rx="3.5" fill="none" stroke="#000" stroke-width="1.1" />
<rect x="952.6" y="433.6" width="34.2" height="53.7" rx="3" fill="none" stroke="#000" stroke-width="1.1" />
<rect x="957.5" y="436" width="26.9" height="23.4" rx="4.5" fill="none" stroke="#000" stroke-width="1.2" />
<rect x="957.5" y="461.9" width="26.9" height="23.7" rx="4.5" fill="none" stroke="#000" stroke-width="1.2" />
<circle cx="965.4" cy="448.1" r="3" fill="none" stroke="#000" stroke-width="1.3"/>
<circle cx="965.4" cy="473.75" r="3" fill="none" stroke="#000" stroke-width="1.3"/>
<path d="M953.1,494.6 L997.75,494.6 L997.75,534.4 L953.1,534.4" fill="none" stroke="#000" stroke-width="1.1" />
<line x1="995" y1="494.6" x2="995" y2="534.4" stroke="#000" stroke-width="1" />
<path d="M940,536.75 L928.3,536.75 L928.3,672.5 L1091.5,672.5 L1091.5,611.75" fill="none" stroke="#000" stroke-width="1.2" />
<path d="M949,536.9 L949,652.25 L1091.5,652.25" fill="none" stroke="#000" stroke-width="1.2" />
<path d="M949,638.3 L957.25,638.3 L957.25,642.2 L961,642.2 L961,644.75 L964,644.75 L964,652.25" fill="none" stroke="#000" stroke-width="1.1" />
<path d="M1091.5,638.3 L1083.25,638.3 L1083.25,642.2 L1081,642.2 L1081,644.75 L1078,644.75 L1078,652.25" fill="none" stroke="#000" stroke-width="1.1" />
<rect x="1012.4" y="613.3" width="55.4" height="36.7" rx="0" fill="none" stroke="#000" stroke-width="1.5" />
<line x1="1012.4" y1="615.2" x2="1067.8" y2="615.2" stroke="#000" stroke-width="1" />
<line x1="1012.4" y1="648.2" x2="1067.8" y2="648.2" stroke="#000" stroke-width="1" />
<line x1="1012.4" y1="632" x2="1067.8" y2="632" stroke="#000" stroke-width="1.2" />
<circle cx="1022.5" cy="623.3" r="4.9" fill="none" stroke="#000" stroke-width="1.2"/>
<circle cx="1057.75" cy="624.5" r="6.6" fill="none" stroke="#000" stroke-width="1.3"/>
<circle cx="1031.2" cy="639.5" r="6.6" fill="none" stroke="#000" stroke-width="1.3"/>
<circle cx="1050.25" cy="640.25" r="4.9" fill="none" stroke="#000" stroke-width="1.2"/>
<line x1="1036.5" y1="619.5" x2="1037.1" y2="622" stroke="#000" stroke-width="1" />
<line x1="1040.2" y1="619.5" x2="1040.8" y2="622" stroke="#000" stroke-width="1" />
<line x1="1043.8" y1="619.5" x2="1044.4" y2="622" stroke="#000" stroke-width="1" />
<line x1="1037.5" y1="624.5" x2="1038" y2="627.3" stroke="#000" stroke-width="1" />
<line x1="1042.5" y1="624.5" x2="1043" y2="627.3" stroke="#000" stroke-width="1" />
<circle cx="947" cy="696.8" r="12.3" fill="none" stroke="#000" stroke-width="1.2"/>
<path d="M955.21,701.17 A9.3,9.3 0 0 1 938.79,701.17" fill="none" stroke="#000" stroke-width="1.2"/>
<line x1="955.21" y1="701.17" x2="957.86" y2="702.57" stroke="#000" stroke-width="1" />
<line x1="938.79" y1="701.17" x2="936.14" y2="702.57" stroke="#000" stroke-width="1" />
<circle cx="990.2" cy="699.2" r="12.3" fill="none" stroke="#000" stroke-width="1.2"/>
<path d="M998.94,702.38 A9.3,9.3 0 0 1 982.68,704.67" fill="none" stroke="#000" stroke-width="1.2"/>
<line x1="998.94" y1="702.38" x2="1001.76" y2="703.41" stroke="#000" stroke-width="1" />
<line x1="982.68" y1="704.67" x2="980.25" y2="706.43" stroke="#000" stroke-width="1" />
<circle cx="1028.3" cy="700.7" r="12.3" fill="none" stroke="#000" stroke-width="1.2"/>
<path d="M1037.46,702.31 A9.3,9.3 0 0 1 1021.84,707.39" fill="none" stroke="#000" stroke-width="1.2"/>
<line x1="1037.46" y1="702.31" x2="1040.41" y2="702.84" stroke="#000" stroke-width="1" />
<line x1="1021.84" y1="707.39" x2="1019.76" y2="709.55" stroke="#000" stroke-width="1" />
<circle cx="1069.5" cy="697.7" r="12.3" fill="none" stroke="#000" stroke-width="1.2"/>
<path d="M1078.52,695.45 A9.3,9.3 0 0 1 1066.32,706.44" fill="none" stroke="#000" stroke-width="1.2"/>
<line x1="1078.52" y1="695.45" x2="1081.43" y2="694.72" stroke="#000" stroke-width="1" />
<line x1="1066.32" y1="706.44" x2="1065.29" y2="709.26" stroke="#000" stroke-width="1" />
<rect x="1148.3" y="346.2" width="55.7" height="56.1" rx="0" fill="none" stroke="#000" stroke-width="1.1" />
<line x1="1148.3" y1="394.8" x2="1204" y2="394.8" stroke="#000" stroke-width="3.4" />
<line x1="1152.5" y1="404.2" x2="1165.7" y2="404.2" stroke="#000" stroke-width="1.2" />
<path d="M1213,473.3 L1172.5,473.3 L1172.5,581.5 L1213,581.5" fill="none" stroke="#000" stroke-width="1.1" />
<line x1="1192.5" y1="473.3" x2="1192.5" y2="578.75" stroke="#000" stroke-width="1" />
<rect x="1184.75" y="491" width="18" height="19.5" rx="0" fill="none" stroke="#000" stroke-width="2" />
<circle cx="1200.2" cy="500.7" r="1.2" fill="#000" stroke="#000" stroke-width="0.8"/>
<circle cx="1245.5" cy="355.8" r="20.25" fill="none" stroke="#000" stroke-width="1.2"/>
<path d="M1228.5,356 C1231,364 1237,362 1241,371" fill="none" stroke="#000" stroke-width="2.2" />
<circle cx="1241.5" cy="339.3" r="1" fill="none" stroke="#000" stroke-width="0.9"/>
<line x1="1241.5" y1="340.3" x2="1241.8" y2="343.5" stroke="#000" stroke-width="1.2" />
<circle cx="1248.6" cy="341.6" r="1" fill="none" stroke="#000" stroke-width="0.9"/>
<line x1="1248.6" y1="342.6" x2="1248.9" y2="345.6" stroke="#000" stroke-width="1.2" />
<line x1="1265.6" y1="356.3" x2="1269" y2="357.3" stroke="#000" stroke-width="1.3" />
<path d="M562.3,621.44 A987,987 0 0 0 839,651.45" fill="none" stroke="#000" stroke-width="1.1" />
<path d="M577.5,737.68 A1096.75,1096.75 0 0 0 882.5,759.08" fill="none" stroke="#000" stroke-width="1.2" />
<path d="M575.5,745.69 A1105,1105 0 0 0 882.5,767.35" fill="none" stroke="#000" stroke-width="1.2" />
<line x1="802.45" y1="680.59" x2="802.17" y2="761.74" stroke="#000" stroke-width="1.1" />
<line x1="783.81" y1="680.36" x2="782.04" y2="761.49" stroke="#000" stroke-width="1.1" />
<line x1="765.17" y1="679.78" x2="761.91" y2="760.86" stroke="#000" stroke-width="1.1" />
<line x1="746.55" y1="678.86" x2="741.8" y2="759.87" stroke="#000" stroke-width="1.1" />
<line x1="727.94" y1="677.6" x2="721.71" y2="758.51" stroke="#000" stroke-width="1.1" />
<line x1="709.36" y1="675.99" x2="701.64" y2="756.77" stroke="#000" stroke-width="1.1" />
<line x1="690.82" y1="674.05" x2="681.62" y2="754.67" stroke="#000" stroke-width="1.1" />
<line x1="672.31" y1="671.76" x2="661.63" y2="752.21" stroke="#000" stroke-width="1.1" />
<line x1="653.85" y1="669.14" x2="641.69" y2="749.37" stroke="#000" stroke-width="1.1" />
<line x1="635.44" y1="666.18" x2="621.81" y2="746.17" stroke="#000" stroke-width="1.1" />
<line x1="617.09" y1="662.88" x2="601.99" y2="742.61" stroke="#000" stroke-width="1.1" />
<line x1="598.8" y1="659.24" x2="582.24" y2="738.68" stroke="#000" stroke-width="1.1" />
<line x1="570.5" y1="652" x2="571.6" y2="737.5" stroke="#000" stroke-width="1.1" />
<path d="M882.5,768.8 L882.5,680.5 L891,680.5" fill="none" stroke="#000" stroke-width="1.1" />
<path d="M891,676.7 L891,766.3 L882.5,767.6" fill="none" stroke="#000" stroke-width="1.1" />
<line x1="882.5" y1="760.3" x2="882.5" y2="768.8" stroke="#000" stroke-width="1.1" />
<line x1="571.75" y1="743.25" x2="505.75" y2="667.5" stroke="#000" stroke-width="1.1" />
<line x1="571.75" y1="743.25" x2="474.25" y2="716.25" stroke="#000" stroke-width="1.1" />
<line x1="571.75" y1="743.25" x2="473.5" y2="765" stroke="#000" stroke-width="1.1" />
<line x1="571.75" y1="743.25" x2="492.5" y2="807.5" stroke="#000" stroke-width="1.1" />
<circle cx="571.75" cy="743.25" r="5.4" fill="#fff" stroke="#000" stroke-width="1.1"/>
<circle cx="571.25" cy="742.75" r="4.2" fill="#fff" stroke="#000" stroke-width="1"/>
<path d="M520,769 C509,748 509.5,716 528,701.5 C540,692.5 553,692.8 566,694.6 L644,707.3" fill="none" stroke="#000" stroke-width="2" />
<polygon points="656,709.5 640.2,699.4 644.3,707.2 637.2,714.3" fill="#000" stroke="none" stroke-width="0"/>
<path d="M493.89,828.46 L489.74,822.22 L489.14,821.32 L488.34,820.13 L487.35,818.67 L486.25,817.03 L485.09,815.28 L483.92,813.48 L482.79,811.7 L481.75,810 L480.82,808.4 L479.92,806.82 L479.05,805.25 L478.2,803.67 L477.37,802.09 L476.56,800.52 L475.78,798.95 L475.02,797.37 L474.27,795.8 L473.54,794.22 L472.84,792.64 L472.16,791.06 L471.49,789.49 L470.85,787.91 L470.23,786.34 L469.62,784.77 L469.03,783.19 L468.46,781.62 L467.91,780.04 L467.38,778.46 L466.86,776.89 L466.36,775.31 L465.88,773.74 L465.42,772.17 L464.97,770.58 L464.54,768.98 L464.12,767.38 L463.72,765.79 L463.35,764.21 L462.99,762.65 L462.64,761.11 L462.32,759.59 L462.02,758.09 L461.73,756.6 L461.47,755.15 L461.23,753.71 L461,752.28 L460.78,750.87 L460.58,749.45 L460.39,748.04 L460.2,746.64 L460.02,745.24 L459.85,743.82 L459.69,742.39 L459.54,740.93 L459.41,739.45 L459.3,737.93 L459.21,736.37 L459.15,734.73 L459.11,733.02 L459.1,731.3 L459.1,729.59 L459.12,727.95 L459.14,726.4 L459.17,725 L459.2,723.81 L459.22,722.94 L459.23,722.29 L459.23,721.63 L459.27,720.85 L459.35,719.94 L459.49,719.04 L459.66,718.14 L459.88,717.12 L460.15,715.9 L460.48,714.53 L460.86,713.04 L461.28,711.47 L461.73,709.86 L462.21,708.22 L462.71,706.59 L463.23,705.02 L463.76,703.51 L464.31,702.03 L464.88,700.56 L465.48,699.09 L466.1,697.64 L466.73,696.19 L467.39,694.75 L468.07,693.33 L468.78,691.91 L469.5,690.51 L470.25,689.12 L471.02,687.73 L471.81,686.36 L472.62,685.01 L473.45,683.66 L474.3,682.33 L475.17,681.01 L476.06,679.71 L476.97,678.41 L477.9,677.14 L478.85,675.87 L479.82,674.62 L480.81,673.39 L481.81,672.17 L482.84,670.97 L483.88,669.78 L484.94,668.61 L486.02,667.46 L487.12,666.32 L488.24,665.19 L489.37,664.09 L490.51,663 L491.68,661.94 L492.86,660.89 L494.05,659.85 L495.27,658.84 L496.49,657.84 L497.74,656.86 L498.99,655.9 L500.26,654.97 L501.55,654.05 L502.85,653.15 L504.16,652.27 L505.49,651.41 L506.83,650.57 L508.18,649.75 L509.55,648.95 L510.92,648.18 L512.31,647.42 L513.71,646.69 L515.12,645.97 L516.54,645.28 L517.98,644.61 L519.42,643.96 L520.87,643.34 L522.32,642.74 L523.76,642.17 L525.2,641.61 L526.67,641.07 L528.17,640.54 L529.7,640.04 L531.26,639.55 L532.85,639.1 L534.43,638.7 L535.93,638.33 L537.45,637.96 L539.06,637.59 L540.76,637.24 L542.57,636.93 L544.48,636.69 L546.5,636.54 L548.36,636.5" fill="none" stroke="#000" stroke-width="1" />
<path d="M464.58,847.96 L460.43,841.71 L459.9,840.92 L459.15,839.81 L458.14,838.31 L456.97,836.56 L455.68,834.62 L454.32,832.53 L452.91,830.31 L451.54,828.07 L450.33,826 L449.22,824.05 L448.15,822.12 L447.11,820.19 L446.11,818.28 L445.14,816.38 L444.2,814.5 L443.28,812.61 L442.37,810.68 L441.48,808.73 L440.61,806.8 L439.78,804.87 L438.98,802.96 L438.2,801.06 L437.45,799.17 L436.72,797.28 L436,795.35 L435.3,793.42 L434.62,791.49 L433.97,789.57 L433.35,787.65 L432.75,785.75 L432.17,783.86 L431.6,781.94 L431.05,779.98 L430.52,778.01 L430.01,776.07 L429.53,774.15 L429.08,772.26 L428.65,770.4 L428.25,768.57 L427.86,766.75 L427.48,764.89 L427.13,763.04 L426.8,761.22 L426.5,759.44 L426.22,757.71 L425.96,756.01 L425.72,754.36 L425.5,752.76 L425.3,751.2 L425.09,749.6 L424.89,747.91 L424.69,746.13 L424.5,744.25 L424.32,742.27 L424.17,740.21 L424.05,738.03 L423.96,735.75 L423.91,733.53 L423.9,731.41 L423.9,729.39 L423.92,727.49 L423.95,725.74 L423.98,724.16 L424.01,722.96 L424.03,722.37 L424.03,721.93 L424.04,720.8 L424.14,718.56 L424.42,715.64 L424.8,713.03 L425.17,711.1 L425.51,709.51 L425.89,707.84 L426.32,706.06 L426.79,704.19 L427.31,702.23 L427.88,700.19 L428.51,698.06 L429.19,695.85 L429.93,693.63 L430.66,691.55 L431.4,689.56 L432.16,687.58 L432.96,685.62 L433.78,683.67 L434.64,681.73 L435.52,679.81 L436.44,677.9 L437.38,676 L438.35,674.12 L439.35,672.25 L440.38,670.4 L441.44,668.57 L442.52,666.75 L443.64,664.94 L444.78,663.16 L445.94,661.39 L447.14,659.64 L448.36,657.91 L449.61,656.2 L450.88,654.51 L452.18,652.83 L453.5,651.18 L454.85,649.55 L456.22,647.93 L457.62,646.34 L459.05,644.77 L460.49,643.23 L461.96,641.7 L463.45,640.2 L464.97,638.72 L466.51,637.26 L468.07,635.83 L469.65,634.42 L471.25,633.04 L472.88,631.68 L474.52,630.34 L476.18,629.03 L477.87,627.75 L479.57,626.49 L481.3,625.26 L483.04,624.05 L484.8,622.87 L486.58,621.72 L490.6,621.4 L552,621.4" fill="none" stroke="#000" stroke-width="1" />
<path d="M462.17,849.56 L458.01,843.32 L457.49,842.53 L456.75,841.43 L455.74,839.93 L454.56,838.17 L453.26,836.21 L451.88,834.1 L450.45,831.84 L449.05,829.56 L447.82,827.45 L446.69,825.47 L445.61,823.51 L444.55,821.55 L443.54,819.61 L442.55,817.69 L441.6,815.78 L440.67,813.86 L439.74,811.9 L438.83,809.93 L437.96,807.96 L437.11,806.01 L436.3,804.07 L435.51,802.14 L434.75,800.23 L434.01,798.31 L433.28,796.36 L432.57,794.39 L431.88,792.43 L431.22,790.48 L430.59,788.54 L429.98,786.61 L429.39,784.69 L428.82,782.75 L428.25,780.76 L427.71,778.76 L427.2,776.79 L426.71,774.84 L426.26,772.92 L425.82,771.04 L425.41,769.19 L425.02,767.34 L424.64,765.45 L424.27,763.57 L423.94,761.72 L423.64,759.91 L423.35,758.15 L423.09,756.43 L422.85,754.76 L422.63,753.15 L422.42,751.58 L422.21,749.96 L422.01,748.25 L421.8,746.43 L421.61,744.52 L421.43,742.51 L421.28,740.4 L421.15,738.16 L421.06,735.84 L421.01,733.57 L421,731.42 L421,729.38 L421.02,727.46 L421.05,725.68 L421.08,724.09 L421.11,722.89 L421.13,722.32 L421.13,721.9 L421.15,720.73 L421.25,718.37 L421.54,715.29 L421.94,712.54 L422.33,710.53 L422.68,708.88 L423.06,707.18 L423.5,705.36 L423.99,703.46 L424.52,701.47 L425.09,699.39 L425.73,697.22 L426.43,694.96 L427.18,692.69 L427.93,690.56 L428.69,688.53 L429.47,686.52 L430.28,684.51 L431.12,682.52 L431.99,680.54 L432.9,678.58 L433.83,676.63 L434.79,674.69 L435.79,672.77 L436.81,670.86 L437.86,668.97 L438.94,667.1 L440.04,665.24 L441.18,663.4 L442.34,661.58 L443.54,659.77 L444.76,657.99 L446,656.22 L447.27,654.47 L448.57,652.75 L449.9,651.04 L451.25,649.35 L452.63,647.68 L454.03,646.03 L455.46,644.41 L456.91,642.81 L458.39,641.23 L459.89,639.67 L461.41,638.14 L462.96,636.63 L464.53,635.14 L466.12,633.68 L467.74,632.24 L469.37,630.83 L471.03,629.44 L472.71,628.08 L474.41,626.74 L476.13,625.43 L477.87,624.14 L479.63,622.88 L481.41,621.65 L483.2,620.45 L485.02,619.28 L486.85,618.13 L486.1,618 L552.8,618" fill="none" stroke="#000" stroke-width="1" />
<line x1="462.17" y1="849.56" x2="493.89" y2="828.46" stroke="#000" stroke-width="1" />
<circle cx="481" cy="643.5" r="12.6" fill="none" stroke="#000" stroke-width="2"/>
<line x1="481" y1="643.5" x2="498.17" y2="649.75" stroke="#000" stroke-width="1.4" />
<line x1="481" y1="643.5" x2="488.05" y2="653.95" stroke="#000" stroke-width="1.4" />
<line x1="481" y1="643.5" x2="480.56" y2="656.09" stroke="#000" stroke-width="1.4" />
<line x1="481" y1="643.5" x2="469.75" y2="657.9" stroke="#000" stroke-width="1.4" />
<line x1="481" y1="643.5" x2="468.89" y2="646.97" stroke="#000" stroke-width="1.4" />
<line x1="481" y1="643.5" x2="469.16" y2="639.19" stroke="#000" stroke-width="1.4" />
<line x1="481" y1="643.5" x2="470.78" y2="628.35" stroke="#000" stroke-width="1.4" />
<line x1="481" y1="643.5" x2="481.44" y2="630.91" stroke="#000" stroke-width="1.4" />
<line x1="481" y1="643.5" x2="488.76" y2="633.57" stroke="#000" stroke-width="1.4" />
<line x1="481" y1="643.5" x2="498.56" y2="638.46" stroke="#000" stroke-width="1.4" />
<line x1="481" y1="643.5" x2="473.71" y2="634.81" stroke="#000" stroke-width="0.9" />
<line x1="481" y1="643.5" x2="476.03" y2="633.31" stroke="#000" stroke-width="0.9" />
<line x1="481" y1="643.5" x2="478.64" y2="632.41" stroke="#000" stroke-width="0.9" />
<line x1="481" y1="643.5" x2="481.4" y2="632.17" stroke="#000" stroke-width="0.9" />
<line x1="481" y1="643.5" x2="484.13" y2="632.6" stroke="#000" stroke-width="0.9" />
<line x1="481" y1="643.5" x2="486.67" y2="633.68" stroke="#000" stroke-width="0.9" />
<line x1="481" y1="643.5" x2="488.88" y2="635.34" stroke="#000" stroke-width="0.9" />
<circle cx="465.5" cy="820.6" r="12.6" fill="none" stroke="#000" stroke-width="2"/>
<line x1="465.5" y1="820.6" x2="462.33" y2="838.59" stroke="#000" stroke-width="1.4" />
<line x1="465.5" y1="820.6" x2="456.44" y2="829.35" stroke="#000" stroke-width="1.4" />
<line x1="465.5" y1="820.6" x2="453.02" y2="822.35" stroke="#000" stroke-width="1.4" />
<line x1="465.5" y1="820.6" x2="449.37" y2="812.02" stroke="#000" stroke-width="1.4" />
<line x1="465.5" y1="820.6" x2="459.98" y2="809.28" stroke="#000" stroke-width="1.4" />
<line x1="465.5" y1="820.6" x2="467.69" y2="808.19" stroke="#000" stroke-width="1.4" />
<line x1="465.5" y1="820.6" x2="478.64" y2="807.91" stroke="#000" stroke-width="1.4" />
<line x1="465.5" y1="820.6" x2="477.98" y2="818.85" stroke="#000" stroke-width="1.4" />
<line x1="465.5" y1="820.6" x2="476.63" y2="826.52" stroke="#000" stroke-width="1.4" />
<line x1="465.5" y1="820.6" x2="473.51" y2="837.02" stroke="#000" stroke-width="1.4" />
<line x1="465.5" y1="820.6" x2="472.79" y2="811.91" stroke="#000" stroke-width="0.9" />
<line x1="465.5" y1="820.6" x2="474.67" y2="813.93" stroke="#000" stroke-width="0.9" />
<line x1="465.5" y1="820.6" x2="476.01" y2="816.35" stroke="#000" stroke-width="0.9" />
<line x1="465.5" y1="820.6" x2="476.73" y2="819.02" stroke="#000" stroke-width="0.9" />
<line x1="465.5" y1="820.6" x2="476.78" y2="821.79" stroke="#000" stroke-width="0.9" />
<line x1="465.5" y1="820.6" x2="476.16" y2="824.48" stroke="#000" stroke-width="0.9" />
<line x1="465.5" y1="820.6" x2="474.9" y2="826.94" stroke="#000" stroke-width="0.9" />
<polygon points="514.84,634.3 511.69,635.47 514.01,637.89 510.65,637.91 512,640.98 508.84,639.85 509.06,643.19 506.48,641.05 505.54,644.27 503.85,641.37 501.87,644.08 501.27,640.78 498.48,642.64 499.04,639.33 495.78,640.13 497.45,637.21 494.11,636.85 496.67,634.68 493.66,633.2 496.81,632.03 494.49,629.61 497.85,629.59 496.5,626.52 499.66,627.65 499.44,624.31 502.02,626.45 502.96,623.23 504.65,626.13 506.63,623.42 507.23,626.72 510.02,624.86 509.46,628.17 512.72,627.37 511.05,630.29 514.39,630.65 511.83,632.82" fill="#000" stroke="none" stroke-width="0"/>
<circle cx="504.25" cy="633.75" r="7.84" fill="#000" stroke="#000" stroke-width="0.5"/>
<polygon points="449.23,674.08 445.97,675.28 448.38,677.8 444.89,677.81 446.29,681 443.02,679.83 443.24,683.3 440.57,681.07 439.59,684.42 437.84,681.41 435.78,684.22 435.16,680.79 432.26,682.73 432.85,679.29 429.47,680.12 431.19,677.1 427.73,676.72 430.39,674.47 427.27,672.92 430.53,671.72 428.12,669.2 431.61,669.19 430.21,666 433.48,667.17 433.26,663.7 435.93,665.93 436.91,662.58 438.66,665.59 440.72,662.78 441.34,666.21 444.24,664.27 443.65,667.71 447.03,666.88 445.31,669.9 448.77,670.28 446.11,672.53" fill="#000" stroke="none" stroke-width="0"/>
<circle cx="438.25" cy="673.5" r="8.14" fill="#000" stroke="#000" stroke-width="0.5"/>
<polygon points="454.48,694.33 451.22,695.53 453.63,698.05 450.14,698.06 451.54,701.25 448.27,700.08 448.49,703.55 445.82,701.32 444.84,704.67 443.09,701.66 441.03,704.47 440.41,701.04 437.51,702.98 438.1,699.54 434.72,700.37 436.44,697.35 432.98,696.97 435.64,694.72 432.52,693.17 435.78,691.97 433.37,689.45 436.86,689.44 435.46,686.25 438.73,687.42 438.51,683.95 441.18,686.18 442.16,682.83 443.91,685.84 445.97,683.03 446.59,686.46 449.49,684.52 448.9,687.96 452.28,687.13 450.56,690.15 454.02,690.53 451.36,692.78" fill="#000" stroke="none" stroke-width="0"/>
<circle cx="443.5" cy="693.75" r="8.14" fill="#000" stroke="#000" stroke-width="0.5"/>
<polygon points="439.48,709.33 436.22,710.53 438.63,713.05 435.14,713.06 436.54,716.25 433.27,715.08 433.49,718.55 430.82,716.32 429.84,719.67 428.09,716.66 426.03,719.47 425.41,716.04 422.51,717.98 423.1,714.54 419.72,715.37 421.44,712.35 417.98,711.97 420.64,709.72 417.52,708.17 420.78,706.97 418.37,704.45 421.86,704.44 420.46,701.25 423.73,702.42 423.51,698.95 426.18,701.18 427.16,697.83 428.91,700.84 430.97,698.03 431.59,701.46 434.49,699.52 433.9,702.96 437.28,702.13 435.56,705.15 439.02,705.53 436.36,707.78" fill="#000" stroke="none" stroke-width="0"/>
<circle cx="428.5" cy="708.75" r="8.14" fill="#000" stroke="#000" stroke-width="0.5"/>
<polygon points="472.79,796.04 469.73,797.17 471.98,799.52 468.72,799.54 470.03,802.52 466.96,801.42 467.18,804.68 464.67,802.59 463.76,805.72 462.11,802.91 460.18,805.54 459.6,802.33 456.89,804.14 457.44,800.92 454.27,801.7 455.89,798.87 452.65,798.51 455.14,796.4 452.21,794.96 455.27,793.83 453.02,791.48 456.28,791.46 454.97,788.48 458.04,789.58 457.82,786.32 460.33,788.41 461.24,785.28 462.89,788.09 464.82,785.46 465.4,788.67 468.11,786.86 467.56,790.08 470.73,789.3 469.11,792.13 472.35,792.49 469.86,794.6" fill="#000" stroke="none" stroke-width="0"/>
<circle cx="462.5" cy="795.5" r="7.62" fill="#000" stroke="#000" stroke-width="0.5"/>
<circle cx="535.75" cy="628.5" r="4.65" fill="none" stroke="#000" stroke-width="1.8"/>
<line x1="536.48" y1="628.66" x2="544.55" y2="630.37" stroke="#000" stroke-width="1.6" />
<line x1="536.16" y1="629.13" x2="540.65" y2="636.05" stroke="#000" stroke-width="1.6" />
<line x1="535.59" y1="629.23" x2="533.88" y2="637.3" stroke="#000" stroke-width="1.6" />
<line x1="535.12" y1="628.91" x2="528.2" y2="633.4" stroke="#000" stroke-width="1.6" />
<line x1="535.02" y1="628.34" x2="526.95" y2="626.63" stroke="#000" stroke-width="1.6" />
<line x1="535.34" y1="627.87" x2="530.85" y2="620.95" stroke="#000" stroke-width="1.6" />
<line x1="535.91" y1="627.77" x2="537.62" y2="619.7" stroke="#000" stroke-width="1.6" />
<line x1="536.38" y1="628.09" x2="543.3" y2="623.6" stroke="#000" stroke-width="1.6" />
<circle cx="535.75" cy="628.5" r="2.25" fill="#000" stroke="#000" stroke-width="0.5"/>
<line x1="524.5" y1="625.88" x2="537.25" y2="626.25" stroke="#000" stroke-width="1" />
<circle cx="465.25" cy="688.5" r="4.65" fill="none" stroke="#000" stroke-width="1.8"/>
<line x1="465.98" y1="688.66" x2="474.05" y2="690.37" stroke="#000" stroke-width="1.6" />
<line x1="465.66" y1="689.13" x2="470.15" y2="696.05" stroke="#000" stroke-width="1.6" />
<line x1="465.09" y1="689.23" x2="463.38" y2="697.3" stroke="#000" stroke-width="1.6" />
<line x1="464.62" y1="688.91" x2="457.7" y2="693.4" stroke="#000" stroke-width="1.6" />
<line x1="464.52" y1="688.34" x2="456.45" y2="686.63" stroke="#000" stroke-width="1.6" />
<line x1="464.84" y1="687.87" x2="460.35" y2="680.95" stroke="#000" stroke-width="1.6" />
<line x1="465.41" y1="687.77" x2="467.12" y2="679.7" stroke="#000" stroke-width="1.6" />
<line x1="465.88" y1="688.09" x2="472.8" y2="683.6" stroke="#000" stroke-width="1.6" />
<circle cx="465.25" cy="688.5" r="2.25" fill="#000" stroke="#000" stroke-width="0.5"/>
<line x1="454" y1="685.88" x2="466.75" y2="686.25" stroke="#000" stroke-width="1" />
<circle cx="440" cy="774.5" r="4.34" fill="none" stroke="#000" stroke-width="1.8"/>
<line x1="440.68" y1="774.65" x2="448.22" y2="776.25" stroke="#000" stroke-width="1.6" />
<line x1="440.38" y1="775.09" x2="444.57" y2="781.54" stroke="#000" stroke-width="1.6" />
<line x1="439.85" y1="775.18" x2="438.25" y2="782.72" stroke="#000" stroke-width="1.6" />
<line x1="439.41" y1="774.88" x2="432.96" y2="779.07" stroke="#000" stroke-width="1.6" />
<line x1="439.32" y1="774.35" x2="431.78" y2="772.75" stroke="#000" stroke-width="1.6" />
<line x1="439.62" y1="773.91" x2="435.43" y2="767.46" stroke="#000" stroke-width="1.6" />
<line x1="440.15" y1="773.82" x2="441.75" y2="766.28" stroke="#000" stroke-width="1.6" />
<line x1="440.59" y1="774.12" x2="447.04" y2="769.93" stroke="#000" stroke-width="1.6" />
<circle cx="440" cy="774.5" r="2.1" fill="#000" stroke="#000" stroke-width="0.5"/>
<line x1="429.5" y1="772.05" x2="441.4" y2="772.4" stroke="#000" stroke-width="1" />
<ellipse cx="441.25" cy="750" rx="11.5" ry="15.5" fill="none" stroke="#000" stroke-width="2.2" />
<ellipse cx="440.5" cy="750" rx="9.6" ry="13.6" fill="none" stroke="#000" stroke-width="1" />
<path d="M449,741 C453,747 452.5,756 448,761" fill="none" stroke="#000" stroke-width="1.4" />
<text x="1420.3" y="103.6" font-size="68.6" text-anchor="start" textLength="131.9" lengthAdjust="spacingAndGlyphs" stroke="#fff" stroke-width="1.2">Rigel</text>
<rect x="1238.8" y="115.3" width="309.2" height="3.1" fill="#555"/>
<text x="1302.8" y="156" font-size="31.98" text-anchor="start" textLength="246.4" lengthAdjust="spacingAndGlyphs" stroke="#fff" stroke-width="0.8">2,923 square feet</text>
<text x="1343.8" y="195.4" font-size="31.98" text-anchor="start" textLength="205.4" lengthAdjust="spacingAndGlyphs" stroke="#fff" stroke-width="0.8">Two bedrooms</text>
<text x="1381.8" y="236.4" font-size="31.98" text-anchor="start" textLength="167.4" lengthAdjust="spacingAndGlyphs" stroke="#fff" stroke-width="0.8">Three baths</text>
<text x="1463.8" y="276.9" font-size="31.98" text-anchor="start" textLength="85.4" lengthAdjust="spacingAndGlyphs" stroke="#fff" stroke-width="0.8">Office</text>
<text x="243.8" y="105.4" font-size="28.63" text-anchor="start" textLength="262.9" lengthAdjust="spacingAndGlyphs" stroke="#fff" stroke-width="0.55">LOWER LEVEL 2123 SF</text>
<text x="334.3" y="138.8" font-size="28.2" text-anchor="start" textLength="82.4" lengthAdjust="spacingAndGlyphs" stroke="#fff" stroke-width="0.55">52&#8217; DIA</text>
<path d="M424,126.6 L438.1,126.6 L462,152.5" fill="none" stroke="#000" stroke-width="1.5" />
<polygon points="467.2,158.1 450.3,151 458.5,148.5 462.5,140.9" fill="#000" stroke="none" stroke-width="0"/>
<text x="690.8" y="196.7" font-size="22.82" text-anchor="start" textLength="66.4" lengthAdjust="spacingAndGlyphs" stroke="#fff" stroke-width="0.55">OFFICE</text>
<text x="692.8" y="223.8" font-size="22.82" text-anchor="start" textLength="62.9" lengthAdjust="spacingAndGlyphs" stroke="#fff" stroke-width="0.55">198 SF</text>
<text x="364.8" y="424.15" font-size="23.26" text-anchor="start" textLength="96.4" lengthAdjust="spacingAndGlyphs" stroke="#fff" stroke-width="0.55">BEDROOM</text>
<text x="381.8" y="450.8" font-size="22.82" text-anchor="start" textLength="62.4" lengthAdjust="spacingAndGlyphs" stroke="#fff" stroke-width="0.55">198 SF</text>
<text x="1046.8" y="492.9" font-size="22.24" text-anchor="start" textLength="80.7" lengthAdjust="spacingAndGlyphs" stroke="#fff" stroke-width="0.55">KITCHEN</text>
<text x="1053.3" y="520.4" font-size="22.24" text-anchor="start" textLength="68.4" lengthAdjust="spacingAndGlyphs" stroke="#fff" stroke-width="0.55">208 SF</text>
<text x="1240.8" y="526.9" font-size="22.53" text-anchor="start" textLength="77.2" lengthAdjust="spacingAndGlyphs" stroke="#fff" stroke-width="0.55">PANTRY</text>
<text x="906.8" y="847.3" font-size="22.82" text-anchor="start" textLength="127.6" lengthAdjust="spacingAndGlyphs" stroke="#fff" stroke-width="0.55">GREAT ROOM</text>
<text x="936.8" y="874.65" font-size="22.24" text-anchor="start" textLength="65.6" lengthAdjust="spacingAndGlyphs" stroke="#fff" stroke-width="0.55">555 SF</text>
<text x="533.1" y="803.4" font-size="22.82" text-anchor="start" textLength="28.1" lengthAdjust="spacingAndGlyphs" stroke="#fff" stroke-width="0.55">UP</text>
<text x="728.1" y="1113.2" font-size="22.24" text-anchor="start" textLength="136.3" lengthAdjust="spacingAndGlyphs" stroke="#fff" stroke-width="0.55">FRONT ENTRY</text>
<text x="49.8" y="1084.65" font-size="29.94" text-anchor="start" textLength="351.6" lengthAdjust="spacingAndGlyphs" stroke="#fff" stroke-width="0.55">PLAN 1 OF 2 &#8211; LOWER LEVEL</text>
<text x="1368.3" y="1084.65" font-size="28.63" text-anchor="start" textLength="103.2" lengthAdjust="spacingAndGlyphs" stroke="#fff" stroke-width="0.55">DL-5203</text>
<text x="1504.3" y="1084.65" font-size="28.63" text-anchor="start" textLength="45.2" lengthAdjust="spacingAndGlyphs" stroke="#fff" stroke-width="0.55">243</text>
</svg>
</body></html>
